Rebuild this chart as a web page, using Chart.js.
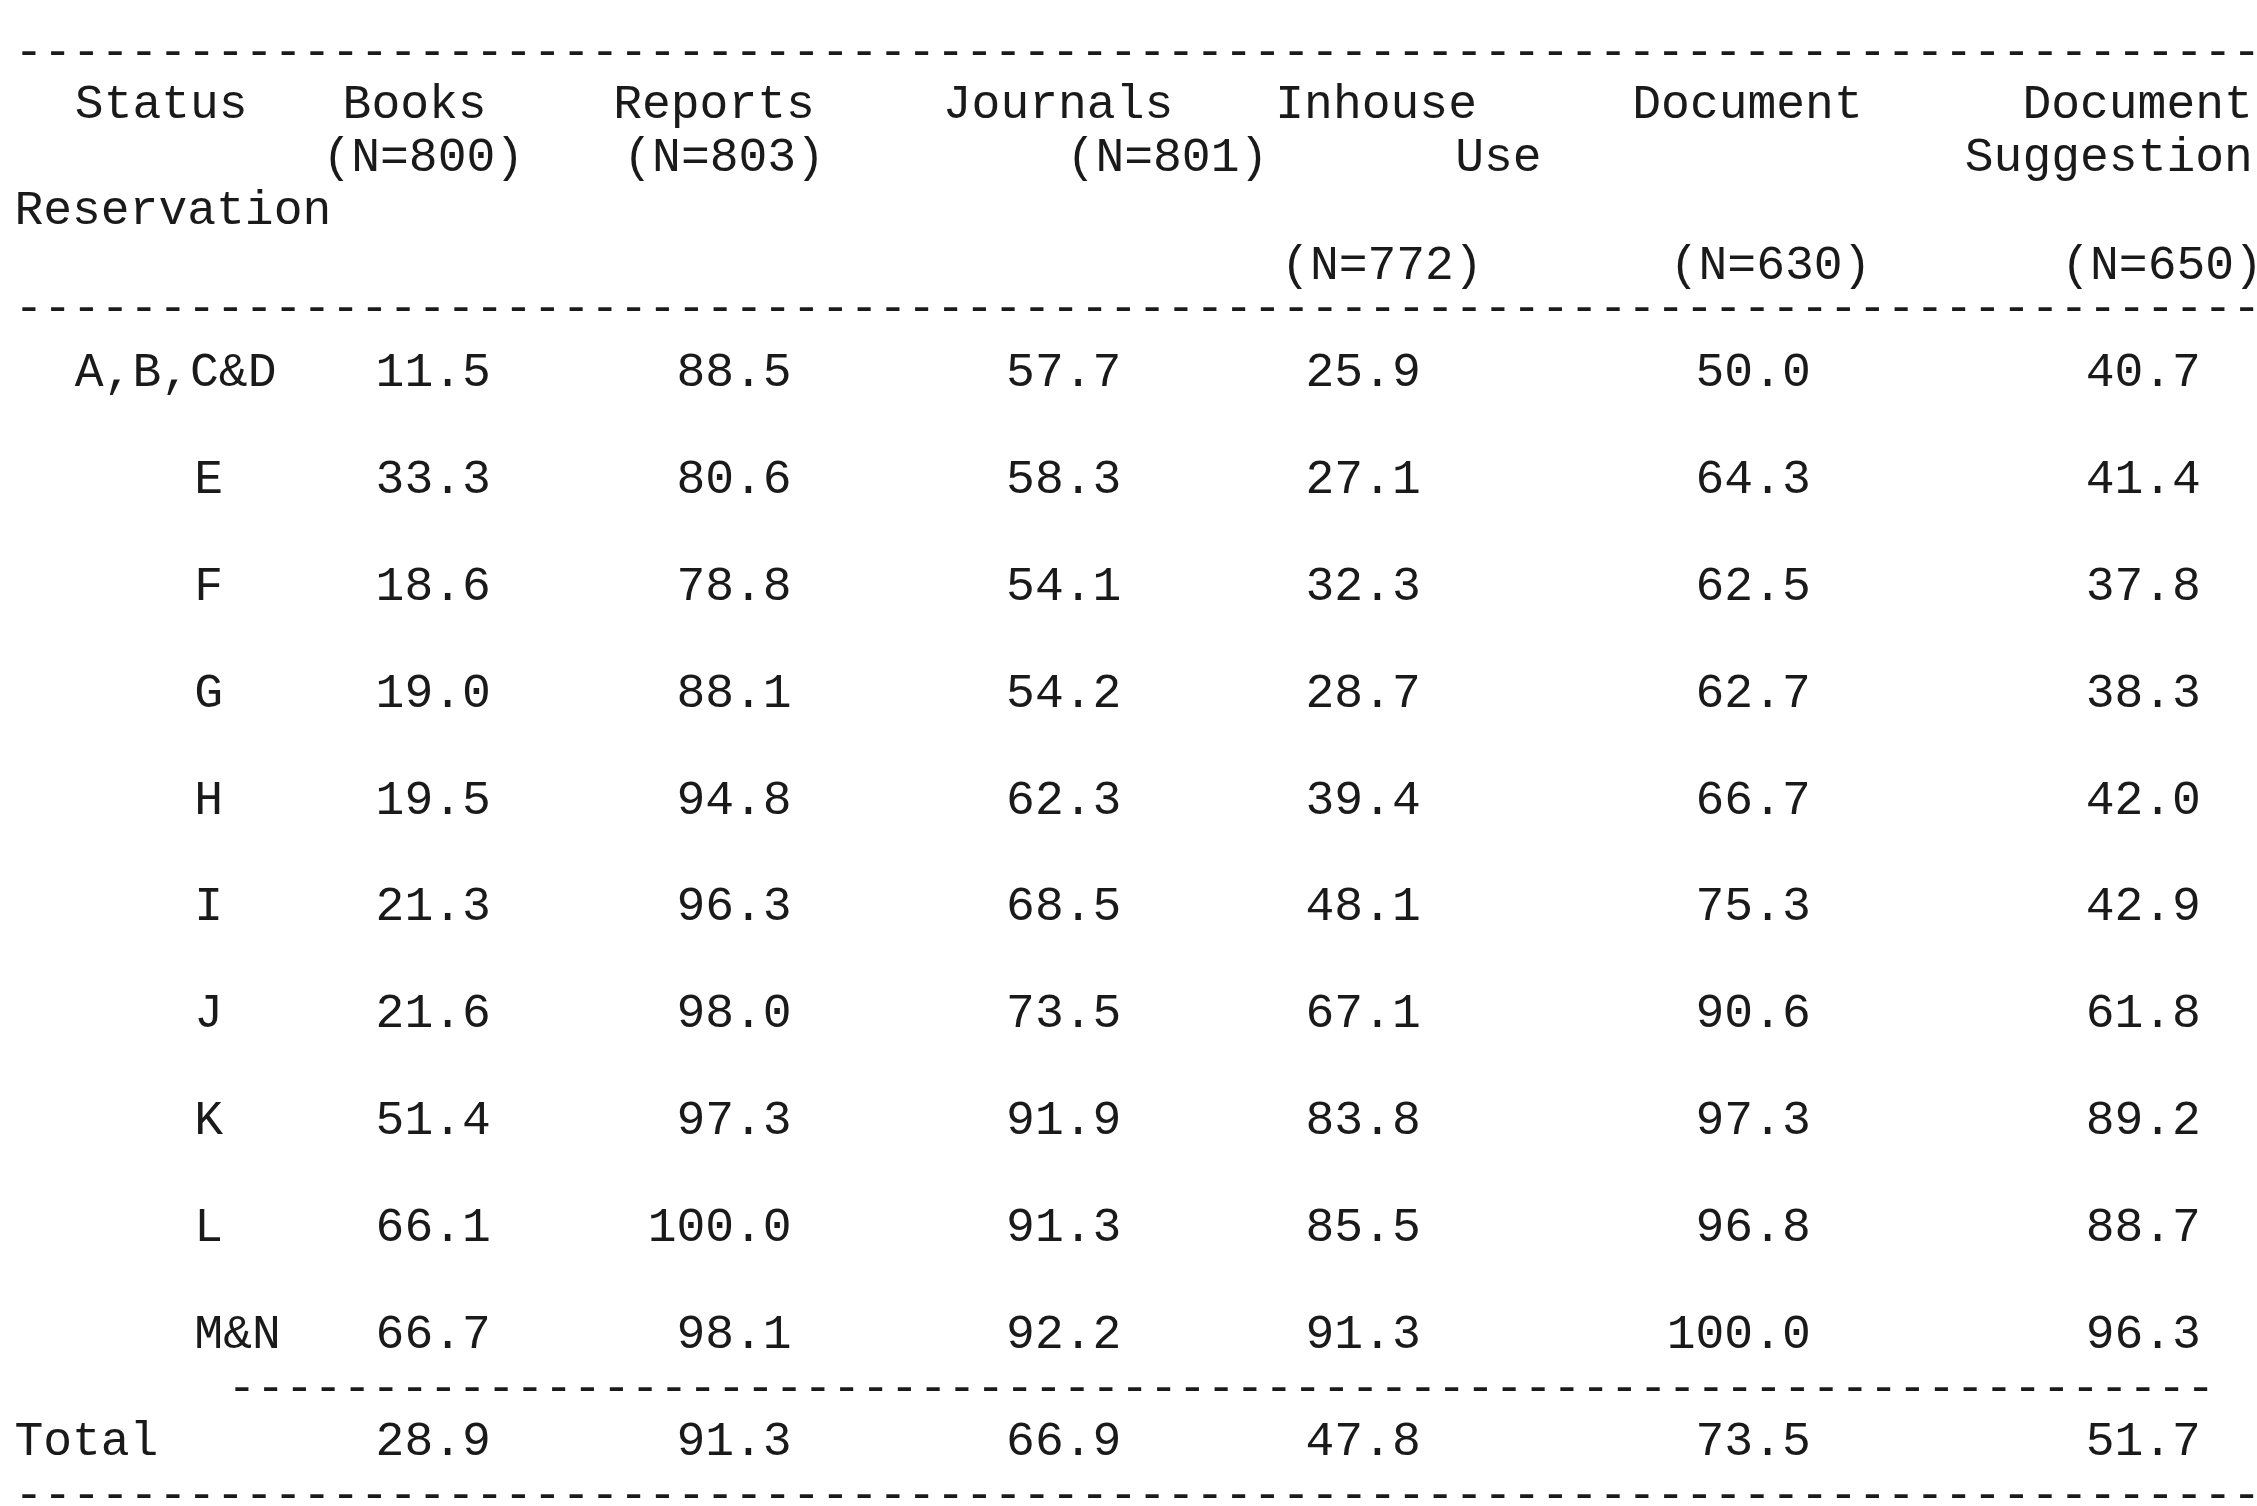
<!DOCTYPE html>
<html>
<head>
<meta charset="utf-8">
<script src="https://cdn.jsdelivr.net/npm/chart.js@4.4.1/dist/chart.umd.min.js"></script>
<style>
  html, body { margin: 0; padding: 0; background: #fff; }
  canvas { display: block; }
</style>
</head>
<body>
<canvas id="table" width="2257" height="1506"></canvas>
<script>
// table data
const rowLabels = ['A,B,C&D', 'E', 'F', 'G', 'H', 'I', 'J', 'K', 'L', 'M&N']
const books = [11.5, 33.3, 18.6, 19.0, 19.5, 21.3, 21.6, 51.4, 66.1, 66.7]
const reports = [88.5, 80.6, 78.8, 88.1, 94.8, 96.3, 98.0, 97.3, 100.0, 98.1]
const journals = [57.7, 58.3, 54.1, 54.2, 62.3, 68.5, 73.5, 91.9, 91.3, 92.2]
const inhouse = [25.9, 27.1, 32.3, 28.7, 39.4, 48.1, 67.1, 83.8, 85.5, 91.3]
const documents = [50.0, 64.3, 62.5, 62.7, 66.7, 75.3, 90.6, 97.3, 96.8, 100.0]
const suggestion = [40.7, 41.4, 37.8, 38.3, 42.0, 42.9, 61.8, 89.2, 88.7, 96.3]
const totals = [28.9, 91.3, 66.9, 47.8, 73.5, 51.7]

// layout (in 1568x1046 reference units)
const colRight = [341, 550, 779, 987, 1258, 1529]
const headerTexts = [
  ['Status', 52, 73], ['Books', 238, 73], ['Reports', 426, 73], ['Journals', 655, 73],
  ['Inhouse', 886, 73], ['Document', 1134, 73], ['Document', 1405, 73],
  ['(N=800)', 224, 110], ['(N=803)', 433, 110], ['(N=801)', 741, 110], ['Use', 1011, 110],
  ['Suggestion', 1365, 110], ['Reservation', 10, 147],
  ['(N=772)', 890, 185], ['(N=630)', 1160, 185], ['(N=650)', 1432, 185]
]
const firstRowY = 259
const rowStep = 74.3
const totalY = 1002

const columns = [books, reports, journals, inhouse, documents, suggestion]

const tablePlugin = {
  id: 'tableText',
  afterDraw(chart) {
    const ctx = chart.ctx
    const xs = chart.scales.x
    const ys = chart.scales.y
    const X = v => xs.getPixelForValue(v)
    const Y = v => ys.getPixelForValue(v)
    ctx.save()
    ctx.fillStyle = '#1a1a1a'
    ctx.font = '48px "Liberation Mono", "DejaVu Sans Mono", monospace'
    ctx.textBaseline = 'middle'

    const dashes = (x1, x2, y) => {
      ctx.textAlign = 'left'
      const w = ctx.measureText('-').width
      const n = Math.floor((X(x2) - X(x1)) / w)
      ctx.fillText('-'.repeat(n), X(x1), Y(y))
    }
    dashes(10, 1600, 37)
    dashes(10, 1600, 215)
    dashes(158, 1552, 965)
    dashes(10, 1600, 1039)

    ctx.textAlign = 'left'
    headerTexts.forEach(([t, x, y]) => ctx.fillText(t, X(x), Y(y)))

    rowLabels.forEach((lab, i) => {
      ctx.textAlign = 'left'
      ctx.fillText(lab, X(i === 0 ? 52 : 135), Y(firstRowY + i * rowStep))
      ctx.textAlign = 'right'
      columns.forEach((col, c) => {
        ctx.fillText(col[i].toFixed(1), X(colRight[c]), Y(firstRowY + i * rowStep))
      })
    })

    ctx.textAlign = 'left'
    ctx.fillText('Total', X(10), Y(totalY))
    ctx.textAlign = 'right'
    totals.forEach((v, c) => ctx.fillText(v.toFixed(1), X(colRight[c]), Y(totalY)))
    ctx.restore()
  }
}

new Chart(document.getElementById('table'), {
  type: 'scatter',
  data: { datasets: [{ data: [], pointRadius: 0 }] },
  options: {
    responsive: false,
    animation: false,
    devicePixelRatio: 1,
    layout: { padding: 0 },
    plugins: { legend: { display: false }, tooltip: { enabled: false } },
    scales: {
      x: { type: 'linear', min: 0, max: 1568, display: false },
      y: { type: 'linear', min: 0, max: 1046, reverse: true, display: false }
    }
  },
  plugins: [tablePlugin]
})
</script>
</body>
</html>
